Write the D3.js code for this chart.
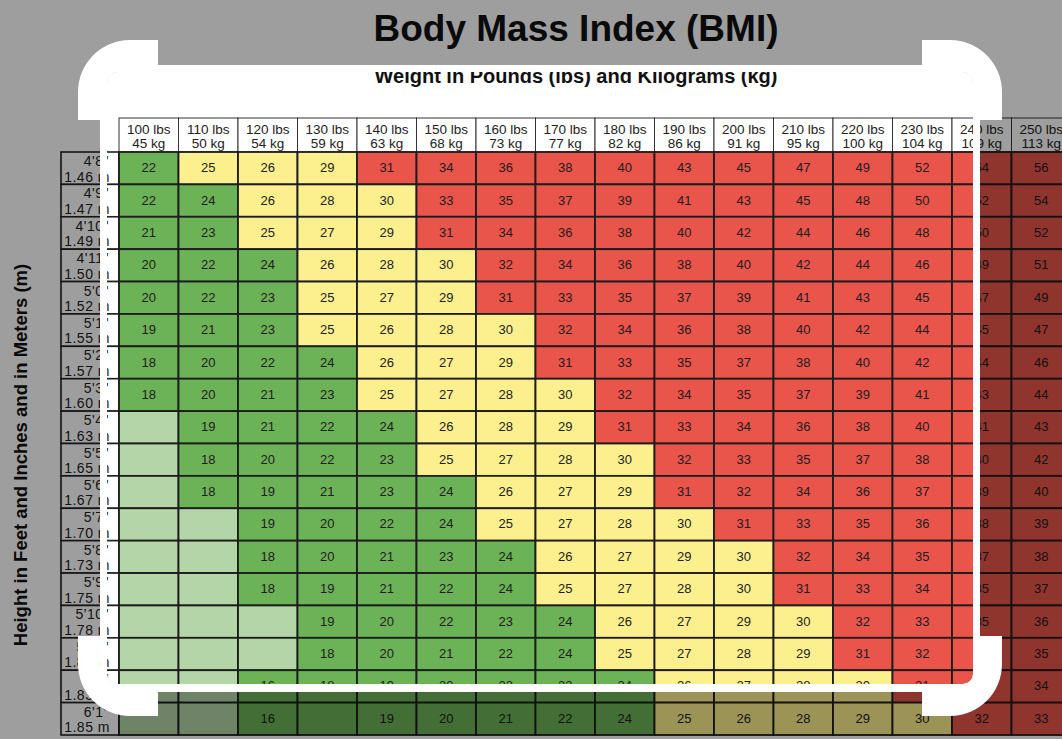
<!DOCTYPE html>
<html>
<head>
<meta charset="utf-8">
<script src="https://cdn.jsdelivr.net/npm/d3@7"></script>
<style>
  body { margin: 0; background: #fff; }
  svg { display: block; font-family: "Liberation Sans", Arial, sans-serif; }
</style>
</head>
<body>
<script>
// column headers (weights)
var weightLbs = ['100 lbs', '110 lbs', '120 lbs', '130 lbs', '140 lbs', '150 lbs', '160 lbs', '170 lbs',
                 '180 lbs', '190 lbs', '200 lbs', '210 lbs', '220 lbs', '230 lbs', '240 lbs', '250 lbs']
var weightKg = ['45 kg', '50 kg', '54 kg', '59 kg', '63 kg', '68 kg', '73 kg', '77 kg',
                '82 kg', '86 kg', '91 kg', '95 kg', '100 kg', '104 kg', '109 kg', '113 kg']

// row headers (heights)
var heightFt = ["4'8\"", "4'9\"", "4'10\"", "4'11\"", "5'0\"", "5'1\"", "5'2\"", "5'3\"", "5'4\"",
                "5'5\"", "5'6\"", "5'7\"", "5'8\"", "5'9\"", "5'10\"", "5'11\"", "6'0\"", "6'1\""]
var heightM = ['1.46 m', '1.47 m', '1.49 m', '1.50 m', '1.52 m', '1.55 m', '1.57 m', '1.60 m', '1.63 m',
               '1.65 m', '1.67 m', '1.70 m', '1.73 m', '1.75 m', '1.78 m', '1.80 m', '1.83 m', '1.85 m']

// BMI printed in each cell (null = empty cell)
var bmi = [
  [22, 25, 26, 29, 31, 34, 36, 38, 40, 43, 45, 47, 49, 52, 54, 56],
  [22, 24, 26, 28, 30, 33, 35, 37, 39, 41, 43, 45, 48, 50, 52, 54],
  [21, 23, 25, 27, 29, 31, 34, 36, 38, 40, 42, 44, 46, 48, 50, 52],
  [20, 22, 24, 26, 28, 30, 32, 34, 36, 38, 40, 42, 44, 46, 49, 51],
  [20, 22, 23, 25, 27, 29, 31, 33, 35, 37, 39, 41, 43, 45, 47, 49],
  [19, 21, 23, 25, 26, 28, 30, 32, 34, 36, 38, 40, 42, 44, 45, 47],
  [18, 20, 22, 24, 26, 27, 29, 31, 33, 35, 37, 38, 40, 42, 44, 46],
  [18, 20, 21, 23, 25, 27, 28, 30, 32, 34, 35, 37, 39, 41, 43, 44],
  [null, 19, 21, 22, 24, 26, 28, 29, 31, 33, 34, 36, 38, 40, 41, 43],
  [null, 18, 20, 22, 23, 25, 27, 28, 30, 32, 33, 35, 37, 38, 40, 42],
  [null, 18, 19, 21, 23, 24, 26, 27, 29, 31, 32, 34, 36, 37, 39, 40],
  [null, null, 19, 20, 22, 24, 25, 27, 28, 30, 31, 33, 35, 36, 38, 39],
  [null, null, 18, 20, 21, 23, 24, 26, 27, 29, 30, 32, 34, 35, 37, 38],
  [null, null, 18, 19, 21, 22, 24, 25, 27, 28, 30, 31, 33, 34, 35, 37],
  [null, null, null, 19, 20, 22, 23, 24, 26, 27, 29, 30, 32, 33, 35, 36],
  [null, null, null, 18, 20, 21, 22, 24, 25, 27, 28, 29, 31, 32, 34, 35],
  [null, null, 16, 18, 19, 20, 22, 23, 24, 26, 27, 28, 30, 31, 33, 34],
  [null, null, 16, null, 19, 20, 21, 22, 24, 25, 26, 28, 29, 30, 32, 33]
]

// colour zone of each cell as printed: U under, N normal, O over, B obese
var zones = [
  'NOOOBBBBBBBBBBBB', 'NNOOOBBBBBBBBBBB', 'NNOOOBBBBBBBBBBB', 'NNNOOOBBBBBBBBBB',
  'NNNOOOBBBBBBBBBB', 'NNNOOOOBBBBBBBBB', 'NNNNOOOBBBBBBBBB', 'NNNNOOOOBBBBBBBB',
  'UNNNNOOOBBBBBBBB', 'UNNNNOOOOBBBBBBB', 'UNNNNNOOOBBBBBBB', 'UUNNNNOOOOBBBBBB',
  'UUNNNNNOOOOBBBBB', 'UUNNNNNOOOOBBBBB', 'UUUNNNNNOOOOBBBB', 'UUUNNNNNOOOOBBBB',
  'UUNNNNNNNOOOOBBB', 'UUNNNNNNNOOOOOBB'
]

var zoneColour = {U: '#b3d5a7', N: '#6cb257', O: '#fcef8d', B: '#e9554b'}

var width = 1062
var height = 739

var svg = d3.select('body').append('svg').attr('width', width).attr('height', height)

var x = d3.scaleBand().domain(weightLbs).range([119, 119 + 59.5 * weightLbs.length])
var y = d3.scaleBand().domain(heightFt).range([152, 735])

svg.append('rect').attr('width', width).attr('height', height).attr('fill', '#fff')

// titles
svg.append('text').attr('x', 576).attr('y', 41).attr('text-anchor', 'middle')
  .attr('font-size', 37).attr('font-weight', 'bold').attr('fill', '#111')
  .text('Body Mass Index (BMI)')

svg.append('text').attr('x', 576).attr('y', 83).attr('text-anchor', 'middle')
  .attr('font-size', 20).attr('font-weight', 'bold').attr('fill', '#111')
  .text('Weight in Pounds (lbs) and Kilograms (kg)')

svg.append('text').attr('transform', 'translate(27,455) rotate(-90)').attr('text-anchor', 'middle')
  .attr('font-size', 18.5).attr('font-weight', 'bold').attr('fill', '#111')
  .text('Height in Feet and Inches and in Meters (m)')

// header row
var head = svg.append('g').selectAll('g').data(weightLbs).join('g')
head.append('rect')
  .attr('x', d => x(d)).attr('y', 118).attr('width', x.bandwidth()).attr('height', 152 - 118)
  .attr('fill', '#fff').attr('stroke', '#333').attr('stroke-width', 1)
head.append('text').attr('x', d => x(d) + x.bandwidth() / 2).attr('y', 134)
  .attr('text-anchor', 'middle').attr('font-size', 13.5).attr('fill', '#222').text(d => d)
head.append('text').attr('x', d => x(d) + x.bandwidth() / 2).attr('y', 148)
  .attr('text-anchor', 'middle').attr('font-size', 13.5).attr('fill', '#222').text((d, i) => weightKg[i])

// row labels
var rowLab = svg.append('g').selectAll('g').data(heightFt).join('g')
rowLab.append('rect')
  .attr('x', 61).attr('y', d => y(d)).attr('width', 119 - 61).attr('height', y.bandwidth())
  .attr('fill', '#fff').attr('stroke', '#222').attr('stroke-width', 1.6)
rowLab.append('text').attr('x', 109).attr('y', d => y(d) + 14)
  .attr('text-anchor', 'end').attr('font-size', 14).attr('letter-spacing', 0.5)
  .attr('fill', '#222').text(d => d)
rowLab.append('text').attr('x', 110).attr('y', d => y(d) + 29.5)
  .attr('text-anchor', 'end').attr('font-size', 14).attr('letter-spacing', 0.5)
  .attr('fill', '#222').text((d, i) => heightM[i])

// cells
var cells = []
bmi.forEach((row, i) => row.forEach((v, j) => cells.push({h: heightFt[i], w: weightLbs[j], v: v, z: zones[i][j]})))

var cell = svg.append('g').selectAll('g').data(cells).join('g')
cell.append('rect')
  .attr('x', d => x(d.w)).attr('y', d => y(d.h)).attr('width', x.bandwidth()).attr('height', y.bandwidth())
  .attr('fill', d => zoneColour[d.z]).attr('stroke', '#1c1c1c').attr('stroke-width', 1.8)
cell.filter(d => d.v !== null).append('text')
  .attr('x', d => x(d.w) + x.bandwidth() / 2).attr('y', d => y(d.h) + y.bandwidth() / 2 + 4)
  .attr('text-anchor', 'middle').attr('font-size', 13).attr('fill', '#221c1c').text(d => d.v)

// camera frame on top
function rr(x0, y0, x1, y1, r) {
  return 'M' + (x0 + r) + ',' + y0 + 'H' + (x1 - r) + 'A' + r + ',' + r + ' 0 0 1 ' + x1 + ',' + (y0 + r) +
    'V' + (y1 - r) + 'A' + r + ',' + r + ' 0 0 1 ' + (x1 - r) + ',' + y1 +
    'H' + (x0 + r) + 'A' + r + ',' + r + ' 0 0 1 ' + x0 + ',' + (y1 - r) +
    'V' + (y0 + r) + 'A' + r + ',' + r + ' 0 0 1 ' + (x0 + r) + ',' + y0 + 'Z'
}
var win = rr(107, 72, 973, 684, 10)

svg.append('path').attr('d', 'M0,0H' + width + 'V' + height + 'H0Z' + win)
  .attr('fill', '#000').attr('fill-opacity', 0.38).attr('fill-rule', 'evenodd')

svg.append('path').attr('d', rr(100, 65, 980, 692, 16) + win)
  .attr('fill', '#fff').attr('fill-rule', 'evenodd')

var corners = [[78, 40], [922, 40], [78, 636], [922, 636]]
var clip = svg.append('clipPath').attr('id', 'corners')
clip.selectAll('rect').data(corners).join('rect')
  .attr('x', d => d[0]).attr('y', d => d[1]).attr('width', 80).attr('height', 80)

svg.append('path').attr('d', rr(78, 40, 1002, 716, 52) + win)
  .attr('fill', '#fff').attr('fill-rule', 'evenodd').attr('clip-path', 'url(#corners)')
</script>
</body>
</html>
